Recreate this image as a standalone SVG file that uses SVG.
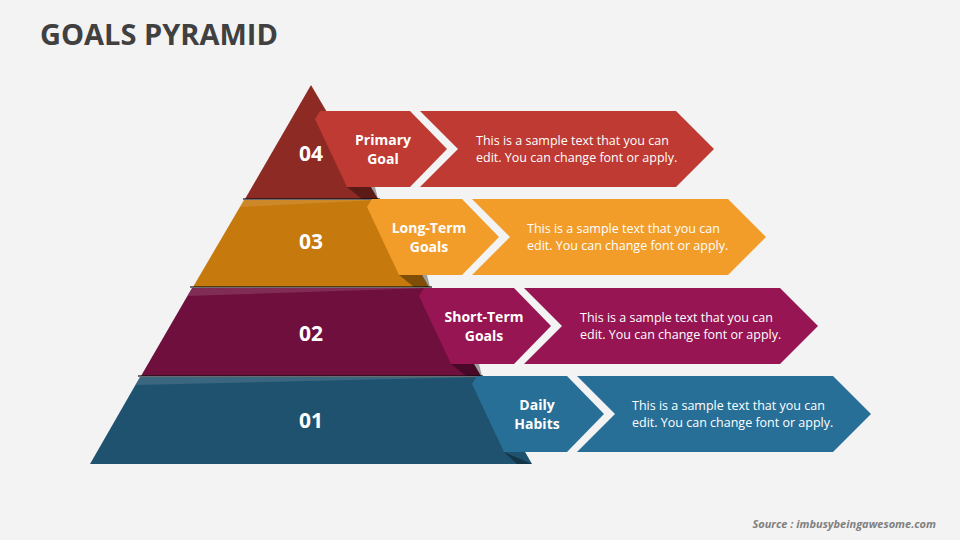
<svg xmlns="http://www.w3.org/2000/svg" width="960" height="540" viewBox="0 0 960 540">
<style>
.num{font-family:"Open Sans","Liberation Sans",sans-serif;font-weight:bold;font-size:21px;fill:#fff;text-anchor:middle}
.lab{font-family:"Open Sans","Liberation Sans",sans-serif;font-weight:bold;font-size:14px;fill:#fff;text-anchor:middle}
.txt{font-family:"Open Sans","Liberation Sans",sans-serif;font-size:12.5px;fill:#fff}
.sh{fill:#000;opacity:0.35}
.hl{fill:#fff;opacity:0.12}
</style>
<rect width="960" height="540" fill="#f3f3f3"/>
<text x="40" y="45" font-family="Open Sans,Liberation Sans,sans-serif" font-weight="bold" font-size="29" fill="#404040">GOALS PYRAMID</text>
<g id="pyramid">
<polygon points="311,85 378,199 245,199" fill="#8e2a24"/>
<polygon points="244,200 379,200 429,287 193,287" fill="#c6790c"/>
<polygon points="192,288 430,288 481,376 141,376" fill="#6f0f3e"/>
<polygon points="140,377 482,377 532,464 90,464" fill="#1f526e"/>
<polygon class="hl" points="244,200 379,200 240,207"/>
<polygon class="hl" points="192,288 430,288 188,296"/>
<polygon class="hl" points="140,377 482,377 136,385"/>
<rect x="190" y="286" width="242" height="2" fill="#111" opacity="0.6"/>
<rect x="138" y="375" width="345" height="2" fill="#111" opacity="0.6"/>
<rect x="243" y="198" width="137" height="2" fill="#111" opacity="0.6"/>
</g>
<g id="row4">
<polygon class="sh" points="347,187 375,187 378,199 362,199"/>
<polygon points="320,111 410,111 447,149 410,187 347,187 315,119" fill="#be3a32"/>
<polygon points="420,111 676,111 714,149 676,187 420,187 458,149" fill="#be3a32"/>
<text class="num" x="311" y="161">04</text>
<text class="lab" x="383" y="145">Primary</text><text class="lab" x="383" y="164">Goal</text>
<text class="txt" x="476" y="145">This is a sample text that you can</text>
<text class="txt" x="476" y="162">edit. You can change font or apply.</text>
</g>
<g id="row3">
<polygon class="sh" points="399,275 427,275 430,287 414,287"/>
<polygon points="372,199 462,199 499,237 462,275 399,275 367,207" fill="#f29d2a"/>
<polygon points="472,199 728,199 766,237 728,275 472,275 510,237" fill="#f29d2a"/>
<text class="num" x="311" y="249">03</text>
<text class="lab" x="429" y="233">Long-Term</text><text class="lab" x="429" y="252">Goals</text>
<text class="txt" x="527" y="233">This is a sample text that you can</text>
<text class="txt" x="527" y="250">edit. You can change font or apply.</text>
</g>
<g id="row2">
<polygon class="sh" points="451,364 479,364 482,376 466,376"/>
<polygon points="424,288 514,288 551,326 514,364 451,364 419,296" fill="#961552"/>
<polygon points="524,288 780,288 818,326 780,364 524,364 562,326" fill="#961552"/>
<text class="num" x="311" y="341">02</text>
<text class="lab" x="484" y="322">Short-Term</text><text class="lab" x="484" y="341">Goals</text>
<text class="txt" x="580" y="322">This is a sample text that you can</text>
<text class="txt" x="580" y="339">edit. You can change font or apply.</text>
</g>
<g id="row1">
<polygon class="sh" points="504,452 532,464 517,464"/>
<polygon points="477,376 567,376 604,414 567,452 504,452 472,384" fill="#286f97"/>
<polygon points="577,376 833,376 871,414 833,452 577,452 615,414" fill="#286f97"/>
<text class="num" x="311" y="428">01</text>
<text class="lab" x="537" y="410">Daily</text><text class="lab" x="537" y="429">Habits</text>
<text class="txt" x="632" y="410">This is a sample text that you can</text>
<text class="txt" x="632" y="427">edit. You can change font or apply.</text>
</g>
<g id="connectors"></g>
<text x="936" y="528" text-anchor="end" font-family="Open Sans,Liberation Sans,sans-serif" font-weight="bold" font-style="italic" font-size="11" fill="#7f7f7f">Source : imbusybeingawesome.com</text>
</svg>
